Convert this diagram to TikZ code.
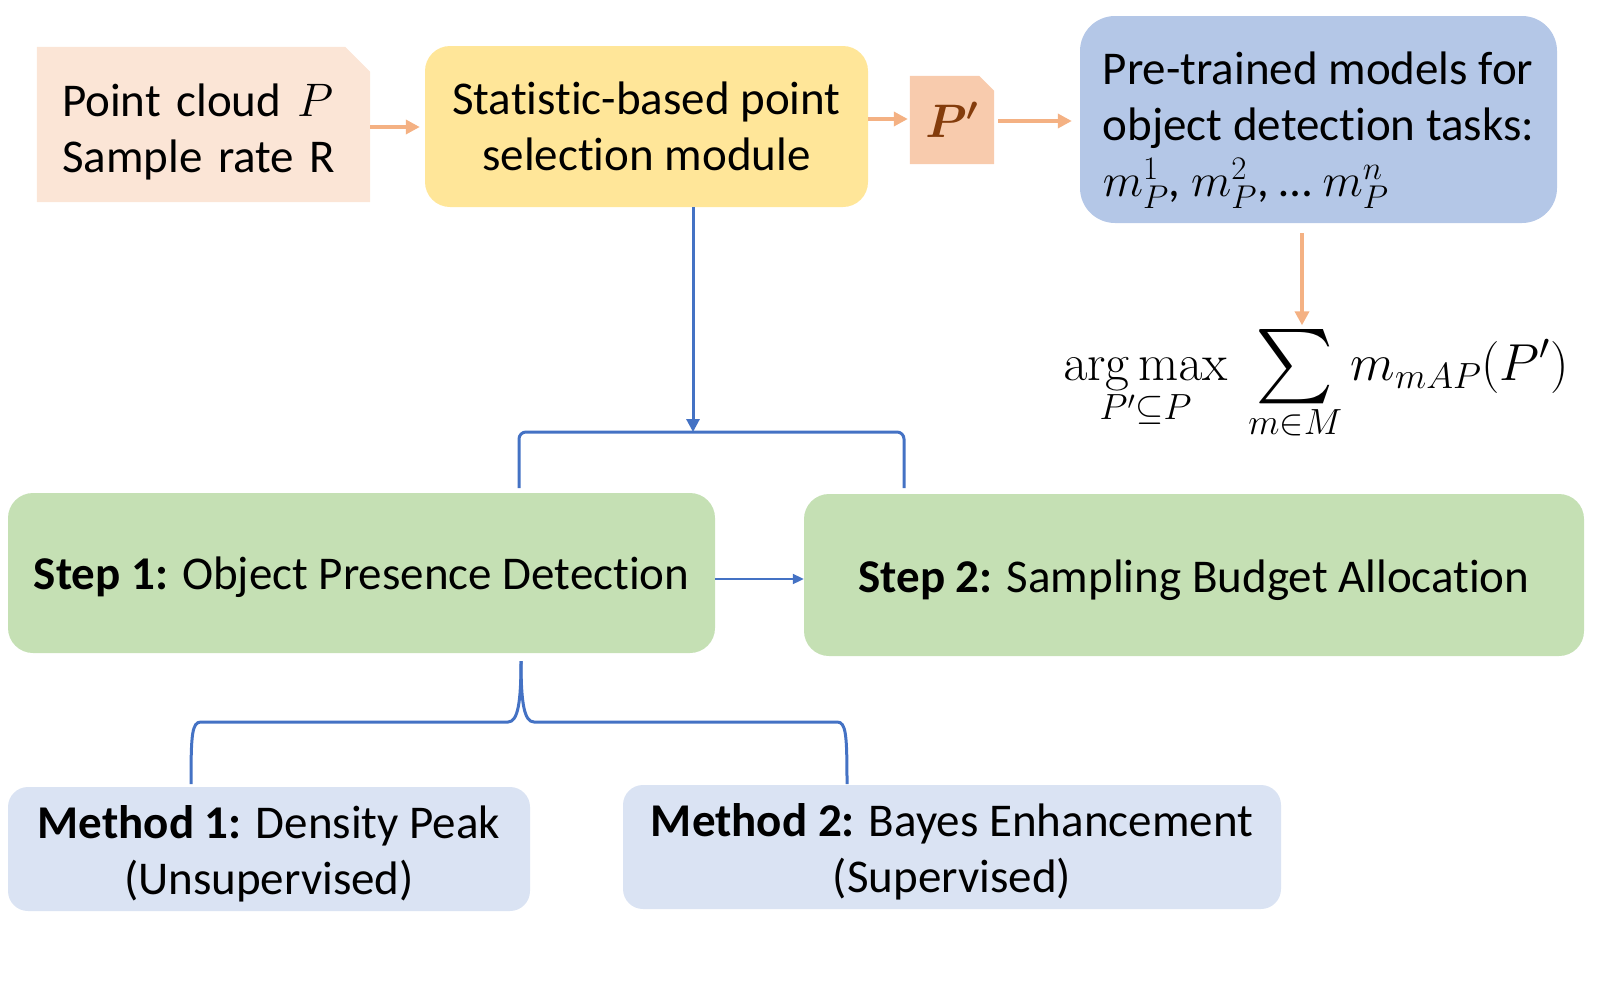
\RequirePackage{fix-cm}
\documentclass[tikz,border=0pt]{standalone}
\usepackage{amsmath}
\usepackage{graphicx}
\usepackage[no-math]{fontspec}
\setmainfont{Carlito}[Ligatures=NoCommon]
\usetikzlibrary{arrows.meta,calc,backgrounds}
\definecolor{peach}{HTML}{FBE5D6}
\definecolor{gold}{HTML}{FFE699}
\definecolor{pbox}{HTML}{F8CBAD}
\definecolor{bluebox}{HTML}{B4C7E7}
\definecolor{greenbox}{HTML}{C5E0B4}
\definecolor{methbox}{HTML}{DAE3F3}
\definecolor{orarrow}{HTML}{F4B183}
\definecolor{blueline}{HTML}{4472C4}
\definecolor{brownP}{HTML}{843C0C}
\newcommand{\tstr}[1]{\rule{0pt}{#1}}
\newcommand{\bigsigma}{\mathop{\vcenter{\hbox{\resizebox{!}{76pt}{$\sum$}}}}\limits}
\begin{document}
\begin{tikzpicture}[x=1pt,y=-1pt,
  every node/.style={font=\fontsize{47}{56}\selectfont, inner sep=0pt},
  orarr/.style={draw=orarrow, line width=4pt, -{Triangle[length=14pt,width=14pt]}},
  bluearr/.style={draw=blueline, line width=3pt, -{Triangle[length=13pt,width=13pt]}},
  braceline/.style={draw=blueline, line width=3pt},
  greenstep/.style={fill=greenbox, rounded corners=25pt, align=center},
  methodbox/.style={fill=methbox, rounded corners=20pt, align=center}
]
\useasboundingbox (0,0) rectangle (1600,1004);

% top row
\node[minimum width=333pt, minimum height=155pt, text width=283pt, align=left] (b1) at (203.5,124.5)
  {\tstr{48pt}Point cloud $P$\\Sample rate R};
\node[fill=gold, rounded corners=25pt, minimum width=443pt, minimum height=161pt, align=center] (b2) at (646.5,126.5)
  {Statistic-based point\\selection module};
\node[minimum width=84pt, minimum height=88pt] (pp) at (952,120)
  {\color{brownP}$\boldsymbol{P'}$};
\node[fill=bluebox, rounded corners=35pt, minimum width=477pt, minimum height=207pt, align=left] (bl) at (1318.5,119.5)
  {\tstr{54pt}Pre-trained models for\\object detection tasks:\\$m_P^1$, $m_P^2$, \dots\ $m_P^n$};
\node[font=\fontsize{52}{60}\selectfont] (f) at (1316,384)
  {$\displaystyle \operatorname*{arg\,max}_{P'\subseteq P}\ \bigsigma_{m\in M} m_{mAP}(P')$};

\begin{scope}[on background layer]
  \fill[peach] (b1.south west) -- (b1.north west) -- ([xshift=-25pt]b1.north east)
     -- ([yshift=-25pt]b1.north east) -- (b1.south east) -- cycle;
  \fill[pbox] (pp.south west) -- (pp.north west) -- ([xshift=-15pt]pp.north east)
     -- ([yshift=-15pt]pp.north east) -- (pp.south east) -- cycle;
\end{scope}

% steps
\node[greenstep, minimum width=707pt, minimum height=160pt] (s1) at (361.5,573)
  {\tstr{42pt}\textbf{Step 1:} Object Presence Detection};
\node[greenstep, minimum width=780pt, minimum height=162pt] (s2) at (1194,575)
  {\tstr{44pt}\textbf{Step 2:} Sampling Budget Allocation};

% methods
\node[methodbox, minimum width=522pt, minimum height=124pt] (m1) at (269,849)
  {\tstr{42pt}\textbf{Method 1:} Density Peak\\(Unsupervised)};
\node[methodbox, minimum width=658pt, minimum height=124pt] (m2) at (952,847)
  {\tstr{42pt}\textbf{Method 2:} Bayes Enhancement\\(Supervised)};

% orange arrows
\draw[orarr, shorten >=5pt] ([yshift=-2.5pt]b1.east) -- ([yshift=-2.5pt]b1.east -| b2.west);
\draw[orarr, shorten >=2pt] ([yshift=7.5pt]b2.east) -- ([yshift=7.5pt]b2.east -| pp.west);
\draw[orarr, shorten <=4pt, shorten >=8pt] ([yshift=-1pt]pp.east) -- ([yshift=-1pt]pp.east -| bl.west);
\draw[orarr, shorten <=10pt, shorten >=4pt] ([xshift=-16.5pt]bl.south) -- ([xshift=-16.5pt]bl.south |- f.north);

% upper brace
\coordinate (ub) at (693,432);
\draw[bluearr] ([xshift=46.5pt]b2.south) -- (ub);
\coordinate (ul) at (519,488);
\coordinate (ur) at (904,488);
\draw[braceline, rounded corners=7pt] (ul) -- (ul |- ub) -- (ur |- ub) -- (ur);

% step arrow
\draw[draw=blueline, line width=2pt, -{Triangle[length=11pt,width=10pt]}]
  ([yshift=-6pt]s1.east) -- ([yshift=-6pt]s1.east -| s2.west);

% lower brace
\coordinate (cusp) at (521,661);
\coordinate (ll) at (191,784);
\coordinate (lr) at (847,784);
\draw[braceline] (cusp) .. controls (521,702) and (518,722) .. (508,722) -- (201,722)
   .. controls (192,722) and (191,734) .. (ll);
\draw[braceline] (cusp) .. controls (521,702) and (524,722) .. (534,722) -- (837,722)
   .. controls (846,722) and (847,734) .. (lr);
\end{tikzpicture}
\end{document}
